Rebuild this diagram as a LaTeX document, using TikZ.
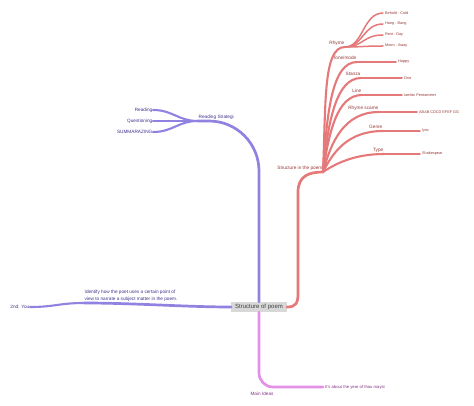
\documentclass[tikz,border=0pt]{standalone}
\usepackage{fontspec}
\setmainfont{Liberation Sans}
\usetikzlibrary{calc}
\definecolor{mapred}{RGB}{229,120,120}
\definecolor{mapredtext}{RGB}{150,55,55}
\definecolor{mappurple}{RGB}{143,130,225}
\definecolor{mappurpletext}{RGB}{60,50,140}
\definecolor{mappink}{RGB}{226,145,230}
\definecolor{mappinktext}{RGB}{130,50,130}
\definecolor{mapgray}{RGB}{216,216,216}
\tikzset{
  %% ---- text ----
  rootbox/.style = {rectangle, fill=mapgray, inner xsep=4pt, inner ysep=1pt,
                    minimum height=10pt, text=black!75,
                    font=\fontsize{6}{7}\selectfont},
  lbl/.style     = {inner xsep=0.5pt, inner ysep=1.5pt, text height=3.6pt,
                    text depth=1pt, text=#1,
                    font=\fontsize{4.7}{5.6}\selectfont},
  note/.style    = {inner xsep=0.5pt, inner ysep=1.5pt, align=left, text=#1,
                    font=\fontsize{4.7}{6.4}\selectfont},
  leaf/.style    = {inner xsep=2pt, inner ysep=0pt, text=#1,
                    font=\fontsize{3.8}{4.5}\selectfont},
  %% ---- branches ----
  trunk/.style    = {line width=2.7pt, color=#1, line cap=round},
  twig/.style     = {line width=2.1pt, color=#1, line cap=round},
  leafline/.style = {line width=1.5pt, color=#1, line cap=round},
}
\begin{document}
\begin{tikzpicture}[x=1pt, y=-1pt]
\useasboundingbox (0,0) rectangle (474,406);

%% root
\node[rootbox] (poem) at (259,307) {Structure of poem};

%% ---- reading / point of view ----
\node[lbl=mappurpletext, anchor=south west] (strat)    at (198,121) {Reading Strategi};
\node[lbl=mappurpletext, anchor=east]       (reading)  at (153,110) {Reading};
\node[lbl=mappurpletext, anchor=east]       (question) at (153,121) {Questioning};
\node[lbl=mappurpletext, anchor=east]       (summ)     at (153,132) {SUMMARAZING};
\node[note=mappurpletext, anchor=south west] (identify) at (84,303)
     {Identify how the poet uses a certain point of\\view to narrate a subject matter in the poem.};
\node[lbl=mappurpletext, anchor=east]       (you)      at (30,307) {2nd: You};

%% ---- structure ----
\node[lbl=mapredtext, anchor=south east] (struct)  at (323,172) {Structure in the poem};
\node[lbl=mapredtext, anchor=south east] (rhyme)   at (345,47)  {Rhyme};
\node[lbl=mapredtext, anchor=south east] (tone)    at (357,62)  {Tone/mode};
\node[lbl=mapredtext, anchor=south east] (stanza)  at (361,78)  {Stanza};
\node[lbl=mapredtext, anchor=south east] (linelbl) at (362,95)  {Line};
\node[lbl=mapredtext, anchor=south east] (scheme)  at (379,112) {Rhyme scame};
\node[lbl=mapredtext, anchor=south east] (genre)   at (383,131) {Genre};
\node[lbl=mapredtext, anchor=south east] (typelbl) at (384,154) {Type};

\node[leaf=mapredtext, anchor=west] (behold) at (383,13)  {Behold - Cold};
\node[leaf=mapredtext, anchor=west] (hang)   at (383,24)  {Hang - Bang};
\node[leaf=mapredtext, anchor=west] (rest)   at (383,35)  {Rest - Day};
\node[leaf=mapredtext, anchor=west] (moon)   at (383,46)  {Moon - Away};
\node[leaf=mapredtext, anchor=west] (happy)  at (396,62)  {Happy};
\node[leaf=mapredtext, anchor=west] (one)    at (402,78)  {One};
\node[leaf=mapredtext, anchor=west] (iambic) at (402,95)  {Iambic Pentameter};
\node[leaf=mapredtext, anchor=west] (abab)   at (417,112) {ABAB CDCD EFEF GG};
\node[leaf=mapredtext, anchor=west] (lyric)  at (420,131) {lyric};
\node[leaf=mapredtext, anchor=west] (shakes) at (420,154) {Shakespear};

%% ---- main ideas ----
\node[lbl=mappinktext, anchor=north] (mainid) at (262,390) {Main Ideas};
\node[leaf=mappinktext, anchor=west, font=\fontsize{4.2}{5}\selectfont]
     (year) at (323,387) {It's about the year of thou mayst};

%% purple connectors
\draw[trunk=mappurple, rounded corners=50pt] (poem.north) |- (strat.south west);
\foreach \n in {reading, question, summ}
  \draw[twig=mappurple] (strat.south west) .. controls +(-20,0) and +(20,0) .. (\n.east);
\draw[trunk=mappurple] (poem.west) .. controls +(-45,0) and +(50,0) .. (identify.south west);
\draw[twig=mappurple] (identify.south west) .. controls +(-25,0) and +(25,0) .. (you.east);

%% red connectors
\draw[trunk=mapred] (poem.east) .. controls +(9,0) and +(0,10) .. ++(11,-14)
  -- ([xshift=-25pt, yshift=-20pt]struct.south east)
  .. controls +(0,-16) and +(-14,0) .. (struct.south east);
\draw[twig=mapred] (struct.south east) .. controls +(3,-70)  and +(-22,0) .. (rhyme.south east);
\draw[twig=mapred] (struct.south east) .. controls +(4,-60)  and +(-25,0) .. (tone.south east);
\draw[twig=mapred] (struct.south east) .. controls +(5,-50)  and +(-25,0) .. (stanza.south east);
\draw[twig=mapred] (struct.south east) .. controls +(6,-40)  and +(-25,0) .. (linelbl.south east);
\draw[twig=mapred] (struct.south east) .. controls +(8,-30)  and +(-35,0) .. (scheme.south east);
\draw[twig=mapred] (struct.south east) .. controls +(10,-20) and +(-35,0) .. (genre.south east);
\draw[twig=mapred] (struct.south east) .. controls +(12,-8)  and +(-30,0) .. (typelbl.south east);
\foreach \n in {behold, hang, rest, moon}
  \draw[leafline=mapred] (rhyme.south east) .. controls +(18,0) and +(-20,0) .. (\n.west);
\draw[leafline=mapred] (tone.south east)    -- (happy.west);
\draw[leafline=mapred] (stanza.south east)  -- (one.west);
\draw[leafline=mapred] (linelbl.south east) -- (iambic.west);
\draw[leafline=mapred] (scheme.south east)  -- (abab.west);
\draw[leafline=mapred] (genre.south east)   -- (lyric.west);
\draw[leafline=mapred] (typelbl.south east) -- (shakes.west);

%% pink connector
\draw[trunk=mappink, rounded corners=14pt] (poem.south) |- (year.west);
\end{tikzpicture}
\end{document}
